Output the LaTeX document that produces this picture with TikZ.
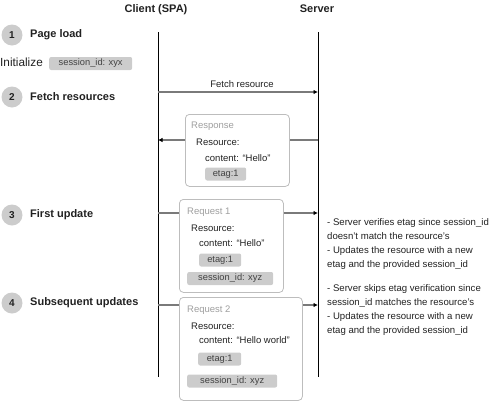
\documentclass[tikz,border=0pt]{standalone}
\usepackage{fontspec}
\setmainfont{Liberation Sans}
\usetikzlibrary{arrows.meta}
\definecolor{pillgray}{HTML}{CCCCCC}
\definecolor{boxgray}{HTML}{BDBDBD}
\definecolor{linegray}{HTML}{7A7A7A}
\definecolor{titlegray}{HTML}{9E9E9E}
\definecolor{ink}{HTML}{212121}
\begin{document}
\begin{tikzpicture}[x=1pt,y=-1pt]
            \tikzstyle{every node}+=[inner sep=0pt, text=ink, font=\fontsize{9.5}{11}\selectfont]
            \tikzstyle{stepdot}=[circle, fill=pillgray, minimum size=21pt, font=\bfseries\fontsize{10}{12}\selectfont]
            \tikzstyle{steplabel}=[anchor=west, font=\bfseries\fontsize{11}{13}\selectfont]
            \tikzstyle{lifeline}=[black, line width=0.8pt]
            \tikzstyle{msgline}=[linegray, line width=1.4pt]
            \tikzstyle{msg}=[msgline, -{Latex[color=black, length=4.5pt, width=4.5pt]}]
            \tikzstyle{msgbox}=[draw=boxgray, line width=0.8pt, rounded corners=4pt, anchor=north west]
            \tikzstyle{pill}=[fill=pillgray, rounded corners=2pt, minimum height=13pt, anchor=west, text=ink!85, font=\fontsize{9.3}{11}\selectfont]
            \tikzstyle{body}=[anchor=west]
            \tikzstyle{note}=[anchor=west, align=left, font=\fontsize{9.6}{13.7}\selectfont]
            \useasboundingbox (0,0) rectangle (495,402);
            % headings and lifelines
            \node [font=\bfseries\fontsize{11}{13}\selectfont] (client) at (156,10) {Client (SPA)};
            \node [font=\bfseries\fontsize{11}{13}\selectfont] (server) at (317,9) {Server};
            \coordinate (c0) at (158,32);
            \coordinate (c1) at (158,377);
            \coordinate (s0) at (318,32);
            \coordinate (s1) at (318,377);
            \draw [lifeline] (c0) -- (c1);
            \draw [lifeline] (s0) -- (s1);
            % steps
            \node [stepdot] (n1) at (12,35) {1};
            \node [steplabel] (l1) at (30,35) {Page load};
            \node [stepdot] (n2) at (12,97) {2};
            \node [steplabel] (l2) at (30,97) {Fetch resources};
            \node [stepdot] (n3) at (12,215) {3};
            \node [steplabel] (l3) at (30,215) {First update};
            \node [stepdot] (n4) at (12,303) {4};
            \node [steplabel] (l4) at (30,303) {Subsequent updates};
            \node [anchor=west, font=\fontsize{11.8}{14}\selectfont] (init) at (0,62.5) {Initialize};
            \node [pill, minimum width=83pt] (initsid) at (49,63.5) {session\_id: xyx};
            % fetch
            \coordinate (fc) at (158,92);
            \coordinate (fs) at (318,92);
            \draw [msg] (fc) -- (fs);
            \node (fetch) at (242,84) {Fetch resource};
            % response
            \node [msgbox, minimum width=104pt, minimum height=72pt] (resp) at (185,114) {};
            \node [body, text=titlegray] (resptitle) at (191,126.5) {Response};
            \node [body] (respres) at (196,142.5) {Resource:};
            \node [body] (respcont) at (205,158) {content: ``Hello''};
            \node [pill, minimum width=41pt] (resptag) at (205,174) {etag:1};
            \coordinate (rs) at (318,140);
            \coordinate (rc) at (158,140);
            \draw [msgline] (rs) -- (resp.east |- rs);
            \draw [msg] (resp.west |- rs) -- (rc);
            % request 1
            \node [msgbox, minimum width=104pt, minimum height=93pt] (req1) at (179,199) {};
            \node [body, text=titlegray] (req1title) at (187,212) {Request 1};
            \node [body] (req1res) at (191,228) {Resource:};
            \node [body] (req1cont) at (199,243.5) {content: ``Hello''};
            \node [pill, minimum width=42pt] (req1tag) at (199,260) {etag:1};
            \node [pill, minimum width=86pt] (req1sid) at (187,278.5) {session\_id: xyz};
            \coordinate (qc1) at (158,213);
            \coordinate (qs1) at (318,213);
            \draw [msgline] (qc1) -- (req1.west |- qc1);
            \draw [msg] (req1.east |- qc1) -- (qs1);
            \node [note] (note1) at (327,244) {- Server verifies etag since session\_id\\doesn’t match the resource’s\\- Updates the resource with a new\\etag and the provided session\_id};
            % request 2
            \node [msgbox, minimum width=123pt, minimum height=103pt] (req2) at (179,297) {};
            \node [body, text=titlegray] (req2title) at (187,310) {Request 2};
            \node [body] (req2res) at (191,326) {Resource:};
            \node [body] (req2cont) at (199,340.5) {content: ``Hello world''};
            \node [pill, minimum width=43pt] (req2tag) at (198,359) {etag:1};
            \node [pill, minimum width=90pt] (req2sid) at (187,381) {session\_id: xyz};
            \coordinate (qc2) at (158,305);
            \coordinate (qs2) at (318,305);
            \draw [msgline] (qc2) -- (req2.west |- qc2);
            \draw [msg] (req2.east |- qc2) -- (qs2);
            \node [note] (note2) at (327,310) {- Server skips etag verification since\\session\_id matches the resource’s\\- Updates the resource with a new\\etag and the provided session\_id};
          \end{tikzpicture}
\end{document}
